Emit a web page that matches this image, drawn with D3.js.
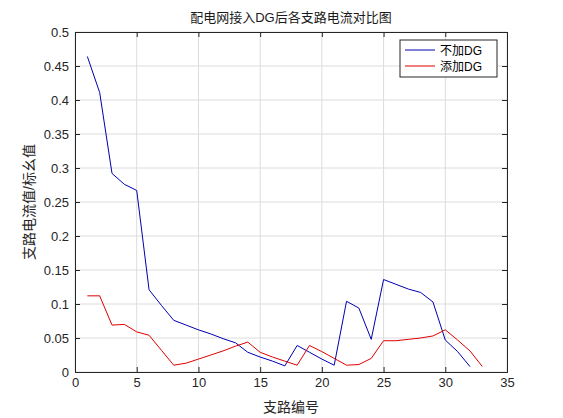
<!DOCTYPE html>
<html><head><meta charset="utf-8">
<script src="https://cdnjs.cloudflare.com/ajax/libs/d3/7.8.5/d3.min.js"></script>
<style>body{margin:0;background:#fff}text{font-family:"Liberation Sans",Arial,"Noto Sans CJK SC",sans-serif}</style>
</head><body>
<script>
// branch currents, per-unit
const noDG = [0.464,0.411,0.292,0.276,0.267,0.121,0.098,0.076,0.069,0.062,0.056,0.049,0.043,0.029,0.022,0.016,0.009,0.039,0.029,0.019,0.010,0.104,0.094,0.048,0.136,0.129,0.122,0.117,0.103,0.047,0.030,0.008]
const withDG = [0.112,0.112,0.069,0.070,0.059,0.054,0.032,0.010,0.013,0.019,0.025,0.031,0.038,0.044,0.029,0.022,0.016,0.010,0.039,0.030,0.020,0.010,0.011,0.020,0.046,0.046,0.048,0.050,0.053,0.062,0.047,0.031,0.008]
const xTicks = d3.range(0, 36, 5)
const yTicks = d3.range(0, 0.51, 0.05)

const W = 563, H = 418, m = {l: 75, r: 56, t: 32, b: 46}
const svg = d3.select('body').append('svg').attr('width', W).attr('height', H)
const x = d3.scaleLinear().domain([0, 35]).range([m.l, W - m.r])
const y = d3.scaleLinear().domain([0, 0.5]).range([H - m.b, m.t])

// grid
svg.append('g').selectAll('line').data(xTicks).join('line')
  .attr('x1', d => x(d)).attr('x2', d => x(d)).attr('y1', y(0)).attr('y2', y(0.5))
  .attr('stroke', '#dcdcdc')
svg.append('g').selectAll('line').data(yTicks).join('line')
  .attr('y1', d => y(d)).attr('y2', d => y(d)).attr('x1', x(0)).attr('x2', x(35))
  .attr('stroke', '#dcdcdc')

const gx = svg.append('g').attr('transform', `translate(0,${y(0)})`)
  .call(d3.axisBottom(x).tickValues(xTicks).tickSize(-5).tickPadding(6))
const gy = svg.append('g').attr('transform', `translate(${x(0)},0)`)
  .call(d3.axisLeft(y).tickValues(yTicks).tickFormat(d => +d.toFixed(2)).tickSize(-5).tickPadding(6))
svg.append('g').attr('transform', `translate(0,${y(0.5)})`)
  .call(d3.axisTop(x).tickValues(xTicks).tickSize(-5).tickFormat(''))
svg.append('g').attr('transform', `translate(${x(35)},0)`)
  .call(d3.axisRight(y).tickValues(yTicks).tickSize(-5).tickFormat(''))
svg.selectAll('.domain, .tick line').attr('stroke', '#262626')
svg.selectAll('.tick text').attr('font-size', 13).attr('fill', '#262626')

const line = d3.line().x((d, i) => x(i + 1)).y(d => y(d))
svg.append('path').datum(noDG).attr('d', line).attr('fill', 'none').attr('stroke', '#0000b0').attr('stroke-width', 1)
svg.append('path').datum(withDG).attr('d', line).attr('fill', 'none').attr('stroke', '#e00000').attr('stroke-width', 1)

svg.append('text').attr('x', (x(0) + x(35)) / 2).attr('y', 22).attr('text-anchor', 'middle')
  .attr('font-size', 13).attr('fill', '#1a1a1a').text('配电网接入DG后各支路电流对比图')
svg.append('text').attr('x', (x(0) + x(35)) / 2).attr('y', 412).attr('text-anchor', 'middle')
  .attr('font-size', 14).attr('fill', '#262626').text('支路编号')
svg.append('text').attr('transform', `translate(34,${(y(0) + y(0.5)) / 2}) rotate(-90)`).attr('text-anchor', 'middle')
  .attr('font-size', 14).attr('fill', '#262626').text('支路电流值/标幺值')

// legend
const lg = svg.append('g').attr('transform', 'translate(400,40)')
lg.append('rect').attr('width', 97).attr('height', 37).attr('fill', '#fff').attr('stroke', '#262626')
const items = [['不加DG', '#0000b0'], ['添加DG', '#e00000']]
items.forEach(([t, c], i) => {
  lg.append('line').attr('x1', 5).attr('x2', 35).attr('y1', 10 + i * 16).attr('y2', 10 + i * 16).attr('stroke', c)
  lg.append('text').attr('x', 40).attr('y', 14.5 + i * 16).attr('font-size', 12).attr('fill', '#000').text(t)
})
</script>
</body></html>
